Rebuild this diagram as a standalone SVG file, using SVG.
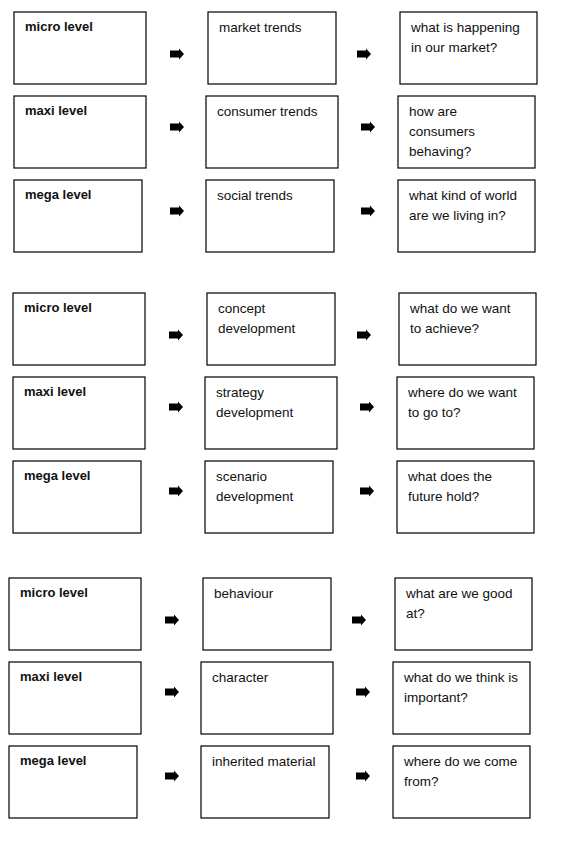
<svg xmlns="http://www.w3.org/2000/svg" xmlns:xlink="http://www.w3.org/1999/xlink" width="572" height="851" viewBox="0 0 572 851">
<style>
.b{fill:#fff;stroke:#000;stroke-width:1.2}
.t{font-family:"Liberation Sans",Arial,sans-serif;font-size:13.5px;fill:#111}
.h{font-family:"Liberation Sans",Arial,sans-serif;font-size:13px;font-weight:bold;fill:#111}
</style>
<defs>
<path id="arr" d="M0,-3.5 H9 V-5.5 L14,0 L9,5.5 V3.5 H0 Z" fill="#000"/>
</defs>
<rect width="572" height="851" fill="#fff"/>
<g id="connectors">
<use xlink:href="#arr" x="170" y="54"/><use xlink:href="#arr" x="357" y="54"/>
<use xlink:href="#arr" x="170" y="127"/><use xlink:href="#arr" x="361" y="127"/>
<use xlink:href="#arr" x="170" y="211"/><use xlink:href="#arr" x="361" y="211"/>
<use xlink:href="#arr" x="169" y="335"/><use xlink:href="#arr" x="357" y="335"/>
<use xlink:href="#arr" x="169" y="407"/><use xlink:href="#arr" x="360" y="407"/>
<use xlink:href="#arr" x="169" y="491"/><use xlink:href="#arr" x="360" y="491"/>
<use xlink:href="#arr" x="165" y="620"/><use xlink:href="#arr" x="352" y="620"/>
<use xlink:href="#arr" x="165" y="692"/><use xlink:href="#arr" x="356" y="692"/>
<use xlink:href="#arr" x="165" y="776"/><use xlink:href="#arr" x="356" y="776"/>
</g>
<!-- Group 1 -->
<g id="g1-micro"><rect class="b" x="14" y="12" width="132" height="72"/><text class="h" x="25" y="31">micro level</text></g>
<g id="g1-market"><rect class="b" x="208" y="12" width="128" height="72"/><text class="t" x="219" y="32">market trends</text></g>
<g id="g1-q1"><rect class="b" x="400" y="12" width="137" height="72"/><text class="t" x="411" y="32">what is happening</text><text class="t" x="411" y="52">in our market?</text></g>
<g id="g1-maxi"><rect class="b" x="14" y="96" width="132" height="72"/><text class="h" x="25" y="115">maxi level</text></g>
<g id="g1-consumer"><rect class="b" x="206" y="96" width="132" height="72"/><text class="t" x="217" y="116">consumer trends</text></g>
<g id="g1-q2"><rect class="b" x="398" y="96" width="137" height="72"/><text class="t" x="409" y="116">how are</text><text class="t" x="409" y="136">consumers</text><text class="t" x="409" y="156">behaving?</text></g>
<g id="g1-mega"><rect class="b" x="14" y="180" width="128" height="72"/><text class="h" x="25" y="199">mega level</text></g>
<g id="g1-social"><rect class="b" x="206" y="180" width="128" height="72"/><text class="t" x="217" y="200">social trends</text></g>
<g id="g1-q3"><rect class="b" x="398" y="180" width="137" height="72"/><text class="t" x="409" y="200">what kind of world</text><text class="t" x="409" y="220">are we living in?</text></g>
<!-- Group 2 -->
<g id="g2-micro"><rect class="b" x="13" y="293" width="132" height="72"/><text class="h" x="24" y="312">micro level</text></g>
<g id="g2-concept"><rect class="b" x="207" y="293" width="128" height="72"/><text class="t" x="218" y="313">concept</text><text class="t" x="218" y="333">development</text></g>
<g id="g2-q1"><rect class="b" x="399" y="293" width="137" height="72"/><text class="t" x="410" y="313">what do we want</text><text class="t" x="410" y="333">to achieve?</text></g>
<g id="g2-maxi"><rect class="b" x="13" y="377" width="132" height="72"/><text class="h" x="24" y="396">maxi level</text></g>
<g id="g2-strategy"><rect class="b" x="205" y="377" width="132" height="72"/><text class="t" x="216" y="397">strategy</text><text class="t" x="216" y="417">development</text></g>
<g id="g2-q2"><rect class="b" x="397" y="377" width="137" height="72"/><text class="t" x="408" y="397">where do we want</text><text class="t" x="408" y="417">to go to?</text></g>
<g id="g2-mega"><rect class="b" x="13" y="461" width="128" height="72"/><text class="h" x="24" y="480">mega level</text></g>
<g id="g2-scenario"><rect class="b" x="205" y="461" width="128" height="72"/><text class="t" x="216" y="481">scenario</text><text class="t" x="216" y="501">development</text></g>
<g id="g2-q3"><rect class="b" x="397" y="461" width="137" height="72"/><text class="t" x="408" y="481">what does the</text><text class="t" x="408" y="501">future hold?</text></g>
<!-- Group 3 -->
<g id="g3-micro"><rect class="b" x="9" y="578" width="132" height="72"/><text class="h" x="20" y="597">micro level</text></g>
<g id="g3-behaviour"><rect class="b" x="203" y="578" width="128" height="72"/><text class="t" x="214" y="598">behaviour</text></g>
<g id="g3-q1"><rect class="b" x="395" y="578" width="137" height="72"/><text class="t" x="406" y="598">what are we good</text><text class="t" x="406" y="618">at?</text></g>
<g id="g3-maxi"><rect class="b" x="9" y="662" width="132" height="72"/><text class="h" x="20" y="681">maxi level</text></g>
<g id="g3-character"><rect class="b" x="201" y="662" width="132" height="72"/><text class="t" x="212" y="682">character</text></g>
<g id="g3-q2"><rect class="b" x="393" y="662" width="137" height="72"/><text class="t" x="404" y="682">what do we think is</text><text class="t" x="404" y="702">important?</text></g>
<g id="g3-mega"><rect class="b" x="9" y="746" width="128" height="72"/><text class="h" x="20" y="765">mega level</text></g>
<g id="g3-inherited"><rect class="b" x="201" y="746" width="128" height="72"/><text class="t" x="212" y="766">inherited material</text></g>
<g id="g3-q3"><rect class="b" x="393" y="746" width="137" height="72"/><text class="t" x="404" y="766">where do we come</text><text class="t" x="404" y="786">from?</text></g>
</svg>
